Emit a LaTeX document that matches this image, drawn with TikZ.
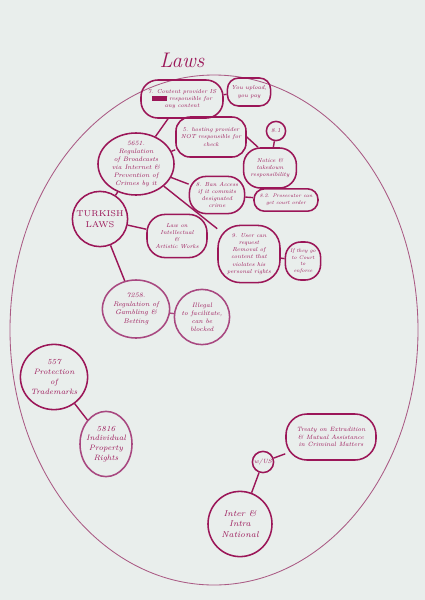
\documentclass[tikz,border=0pt]{standalone}
\usepackage{tikz}
\usetikzlibrary{shapes.geometric}

\definecolor{paper}{RGB}{233,238,236}
\definecolor{ink}{RGB}{155,22,88}
\definecolor{inklight}{RGB}{168,72,128}
\definecolor{rim}{RGB}{170,90,132}

% word blotted out with ink
\newcommand{\blotted}[1]{\setbox0\hbox{#1}\rlap{\copy0}\rule[-0.3pt]{\wd0}{\dimexpr\ht0+0.3pt\relax}}

\tikzset{
  blob/.style={draw=ink, line width=1.1pt, rectangle, rounded corners=#1,
    align=center, inner sep=1pt, text=ink,
    font=\fontsize{4.1}{5.1}\selectfont\itshape},
  blob/.default=10pt,
  bubble/.style={draw=ink, line width=1.1pt, ellipse, inner sep=-30pt,
    align=center, text=ink, font=\fontsize{4.6}{5.6}\selectfont\itshape},
  ring/.style={draw=ink, line width=1.1pt, circle, inner sep=0.5pt, text=ink,
    font=\fontsize{4.3}{5.3}\selectfont\itshape},
  link/.style={draw=ink, line width=1pt},
}

\begin{document}
\begin{tikzpicture}[x=0.025cm, y=-0.025cm]
        % paper
        \fill[paper] (0,0) rectangle (425,600);
        \useasboundingbox (0,0) rectangle (425,600);

        % Title and outer ring
        \node[text=ink, font=\fontsize{15}{15}\selectfont\itshape] (title) at (182,60) {Laws};
        \draw[rim, line width=0.6pt] (214,330) ellipse [x radius=204, y radius=255];

        % Turkish laws
        \node[bubble, minimum width=1.38cm, minimum height=1.38cm,
          font=\fontsize{6}{7.5}\selectfont] (turkish) at (100,219) {TURKISH\\LAWS};
        \node[bubble, minimum width=1.9cm, minimum height=1.55cm] (law5651) at (136,164)
          {5651.\\Regulation\\of Broadcasts\\via Internet \&\\Prevention of\\Crimes by it};
        \node[blob=12pt, minimum width=2.05cm, minimum height=0.95cm] (content) at (182,99)
          {7. Content provider IS\\\blotted{NOT} responsible for\\any content};
        \node[blob=8pt, minimum width=1.08cm, minimum height=0.7cm] (upload) at (249,92)
          {You upload,\\you pay};
        \node[blob=10pt, minimum width=1.75cm, minimum height=1.0cm] (hosting) at (211,137)
          {5. hosting provider\\NOT responsible for\\check};
        \node[ring, minimum size=0.48cm] (eight1) at (276,131) {8.1};
        \node[blob=12pt, minimum width=1.32cm, minimum height=1.0cm] (notice) at (270,168)
          {Notice \&\\takedown\\responsibility};
        \node[blob=12pt, minimum width=1.38cm, minimum height=0.93cm] (ban) at (217,195)
          {8. Ban Access\\if it commits\\designated\\crime};
        \node[blob=7.5pt, minimum width=1.6cm, minimum height=0.56cm,
          font=\fontsize{3.7}{4.7}\selectfont\itshape] (prosecutor) at (286,200)
          {8.2. Prosecutor can\\get court order};
        \node[blob=13pt, minimum width=1.5cm, minimum height=1.08cm] (intellectual) at (177,236)
          {Law on\\Intellectual\\\&\\Artistic Works};
        \node[blob=16pt, minimum width=1.55cm, minimum height=1.43cm] (user) at (249,254)
          {9. User can\\request\\Removal of\\content that\\violates his\\personal rights};
        \node[blob=11pt, minimum width=0.88cm, minimum height=0.95cm,
          font=\fontsize{3.7}{4.7}\selectfont\itshape] (court) at (303,261)
          {If they go\\to Court\\to\\enforce};
        \node[bubble, draw=inklight, minimum width=1.68cm, minimum height=1.45cm,
          font=\fontsize{4.8}{6}\selectfont\itshape] (gambling) at (136,309)
          {7258.\\Regulation of\\Gambling \&\\Betting};
        \node[bubble, draw=inklight, minimum width=1.38cm, minimum height=1.38cm] (illegal) at (202,317)
          {Illegal\\to facilitate,\\can be\\blocked};

        % Trademarks
        \node[bubble, minimum width=1.68cm, minimum height=1.63cm,
          font=\fontsize{5.5}{7}\selectfont\itshape] (trademarks) at (54,377)
          {557\\Protection\\of\\Trademarks};
        \node[bubble, draw=inklight, minimum width=1.3cm, minimum height=1.63cm,
          font=\fontsize{5.5}{7}\selectfont\itshape] (property) at (106,444)
          {5816\\Individual\\Property\\Rights};

        % International
        \node[ring, minimum size=0.53cm] (wus) at (263,462) {w/US};
        \node[blob=15pt, minimum width=2.25cm, minimum height=1.15cm,
          font=\fontsize{4.4}{5.6}\selectfont\itshape] (treaty) at (331,437)
          {Treaty on Extradition\\\& Mutual Assistance\\in Criminal Matters};
        \node[bubble, minimum width=1.6cm, minimum height=1.63cm,
          font=\fontsize{6}{7.6}\selectfont\itshape] (inter) at (240,524)
          {Inter \&\\Intra\\National};

        % Links
        \draw[link] (content) -- (upload);
        \draw[link] (content) -- (law5651);
        \draw[link] (law5651) -- (hosting);
        \draw[link] (hosting.east) -- (notice.120);
        \draw[link] (notice) -- (eight1);
        \draw[link] (law5651) -- (ban);
        \draw[link] (ban) -- (prosecutor);
        \draw[link] (law5651) -- (user);
        \draw[link] (user) -- (court);
        \draw[link] (law5651) -- (turkish);
        \draw[link] (turkish) -- (intellectual);
        \draw[link] (turkish) -- (gambling);
        \draw[link, inklight] (gambling) -- (illegal);
        \draw[link] (trademarks) -- (property);
        \draw[link] (inter) -- (wus);
        \draw[link] (wus) -- (treaty);
    \end{tikzpicture}
\end{document}
